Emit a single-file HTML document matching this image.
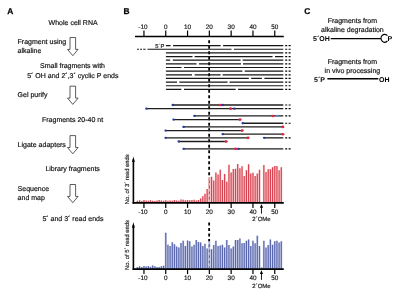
<!DOCTYPE html>
<html><head><meta charset="utf-8"><title>Figure</title>
<style>
html,body{margin:0;padding:0;background:#fff;}
body{width:400px;height:295px;overflow:hidden;}
svg{display:block;filter:blur(0.35px);font-family:"Liberation Sans",sans-serif;text-rendering:geometricPrecision;}
text{paint-order:stroke;stroke-linejoin:round;}
.t{font-size:7px;fill:#111;stroke:#111;stroke-width:0.18px;}
.b{font-weight:bold;font-size:7px;fill:#000;}
.h{font-weight:bold;font-size:8.4px;fill:#000;stroke:#000;stroke-width:0.25px;}
.s{font-size:6.4px;fill:#111;stroke:#111;stroke-width:0.15px;}
</style></head><body>
<svg width="400" height="295" viewBox="0 0 400 295">
<rect width="400" height="295" fill="#fff"/>

<g id="panelA">
<text class="h" x="7.2" y="14.1">A</text>
<text class="t" x="48.6" y="24.7" text-anchor="start">Whole cell RNA</text>
<text class="t" x="17.6" y="44.3" text-anchor="start">Fragment using</text>
<text class="t" x="17.6" y="53.2" text-anchor="start">alkaline</text>
<text class="t" x="40" y="68.3" text-anchor="start">Small fragments with</text>
<text class="t" x="27.2" y="77.5" text-anchor="start">5´ OH and 2´,3´ cyclic P ends</text>
<text class="t" x="17.6" y="97.1" text-anchor="start">Gel purify</text>
<text class="t" x="42.0" y="121.6" text-anchor="start">Fragments 20-40 nt</text>
<text class="t" x="17.6" y="146.7" text-anchor="start">Ligate adapters</text>
<text class="t" x="45.4" y="170.9" text-anchor="start">Library fragments</text>
<text class="t" x="17.6" y="191.0" text-anchor="start">Sequence</text>
<text class="t" x="17.6" y="200.3" text-anchor="start">and map</text>
<text class="t" x="42.4" y="220.5" text-anchor="start">5´ and 3´ read ends</text>
<polygon points="70.00,37.50 75.60,37.50 75.60,49.40 78.10,49.40 72.80,55.70 67.50,49.40 70.00,49.40" fill="#fff" stroke="#333" stroke-width="0.8" stroke-linejoin="miter"/>
<polygon points="70.00,86.20 75.60,86.20 75.60,98.10 78.10,98.10 72.80,104.40 67.50,98.10 70.00,98.10" fill="#fff" stroke="#333" stroke-width="0.8" stroke-linejoin="miter"/>
<polygon points="70.00,135.60 75.60,135.60 75.60,147.50 78.10,147.50 72.80,153.80 67.50,147.50 70.00,147.50" fill="#fff" stroke="#333" stroke-width="0.8" stroke-linejoin="miter"/>
<polygon points="70.00,184.50 75.60,184.50 75.60,196.40 78.10,196.40 72.80,202.70 67.50,196.40 70.00,196.40" fill="#fff" stroke="#333" stroke-width="0.8" stroke-linejoin="miter"/>
</g>
<g id="panelB">
<text class="h" x="123.6" y="14.1">B</text>
<line x1="135" y1="36.4" x2="283.8" y2="36.4" stroke="#000" stroke-width="1.5"/>
<line x1="143.95" y1="30.5" x2="143.95" y2="36.4" stroke="#000" stroke-width="1.2"/>
<text class="s" x="142.95" y="28.6" text-anchor="middle">-10</text>
<line x1="165.75" y1="30.5" x2="165.75" y2="36.4" stroke="#000" stroke-width="1.2"/>
<text class="s" x="165.75" y="28.6" text-anchor="middle">0</text>
<line x1="187.55" y1="30.5" x2="187.55" y2="36.4" stroke="#000" stroke-width="1.2"/>
<text class="s" x="187.55" y="28.6" text-anchor="middle">10</text>
<line x1="209.35" y1="30.5" x2="209.35" y2="36.4" stroke="#000" stroke-width="1.2"/>
<text class="s" x="209.35" y="28.6" text-anchor="middle">20</text>
<line x1="231.15" y1="30.5" x2="231.15" y2="36.4" stroke="#000" stroke-width="1.2"/>
<text class="s" x="231.15" y="28.6" text-anchor="middle">30</text>
<line x1="252.95" y1="30.5" x2="252.95" y2="36.4" stroke="#000" stroke-width="1.2"/>
<text class="s" x="252.95" y="28.6" text-anchor="middle">40</text>
<line x1="274.75" y1="30.5" x2="274.75" y2="36.4" stroke="#000" stroke-width="1.2"/>
<text class="s" x="274.75" y="28.6" text-anchor="middle">50</text>
<line x1="209.15" y1="40.2" x2="209.15" y2="203" stroke="#000" stroke-width="1.8" stroke-dasharray="3 2.5"/>
<line x1="209.15" y1="222.6" x2="209.15" y2="269" stroke="#000" stroke-width="1.8" stroke-dasharray="3 2.5"/>
<path d="M165.9 45.60H170.6 M173.1 45.60H220.6 M223.1 45.60H283.3" stroke="#161616" stroke-width="1.2" fill="none"/>
<path d="M285.2 45.60H287.2 M288.6 45.60H290.6" stroke="#000" stroke-width="1.2" fill="none"/>
<path d="M147.5 49.25H231.5 M234.0 49.25H283.3" stroke="#161616" stroke-width="1.2" fill="none"/>
<path d="M285.2 49.25H287.2 M288.6 49.25H290.6" stroke="#000" stroke-width="1.2" fill="none"/>
<path d="M165.9 52.90H283.3" stroke="#161616" stroke-width="1.2" fill="none"/>
<path d="M285.2 52.90H287.2 M288.6 52.90H290.6" stroke="#000" stroke-width="1.2" fill="none"/>
<path d="M165.9 56.55H192.5 M194.6 56.55H272.5 M275.0 56.55H283.3" stroke="#161616" stroke-width="1.2" fill="none"/>
<path d="M285.2 56.55H287.2 M288.6 56.55H290.6" stroke="#000" stroke-width="1.2" fill="none"/>
<path d="M165.9 60.20H170.2 M172.8 60.20H240.6 M242.6 60.20H283.3" stroke="#161616" stroke-width="1.2" fill="none"/>
<path d="M285.2 60.20H287.2 M288.6 60.20H290.6" stroke="#000" stroke-width="1.2" fill="none"/>
<path d="M165.9 63.85H196.5 M199.0 63.85H241.0 M243.0 63.85H283.3" stroke="#161616" stroke-width="1.2" fill="none"/>
<path d="M285.2 63.85H287.2 M288.6 63.85H290.6" stroke="#000" stroke-width="1.2" fill="none"/>
<path d="M165.9 67.50H181.6 M184.0 67.50H283.3" stroke="#161616" stroke-width="1.2" fill="none"/>
<path d="M285.2 67.50H287.2 M288.6 67.50H290.6" stroke="#000" stroke-width="1.2" fill="none"/>
<path d="M165.9 71.15H242.4 M244.7 71.15H283.3" stroke="#161616" stroke-width="1.2" fill="none"/>
<path d="M285.2 71.15H287.2 M288.6 71.15H290.6" stroke="#000" stroke-width="1.2" fill="none"/>
<path d="M165.9 74.80H192.0 M194.7 74.80H220.6 M222.6 74.80H283.3" stroke="#161616" stroke-width="1.2" fill="none"/>
<path d="M285.2 74.80H287.2 M288.6 74.80H290.6" stroke="#000" stroke-width="1.2" fill="none"/>
<path d="M165.9 78.45H248.8 M251.2 78.45H261.9 M264.4 78.45H283.3" stroke="#161616" stroke-width="1.2" fill="none"/>
<path d="M285.2 78.45H287.2 M288.6 78.45H290.6" stroke="#000" stroke-width="1.2" fill="none"/>
<path d="M165.9 82.10H177.0 M179.4 82.10H227.5 M229.5 82.10H283.3" stroke="#161616" stroke-width="1.2" fill="none"/>
<path d="M285.2 82.10H287.2 M288.6 82.10H290.6" stroke="#000" stroke-width="1.2" fill="none"/>
<path d="M165.9 85.75H283.3" stroke="#161616" stroke-width="1.2" fill="none"/>
<path d="M285.2 85.75H287.2 M288.6 85.75H290.6" stroke="#000" stroke-width="1.2" fill="none"/>
<path d="M165.9 89.40H181.3 M184.0 89.40H235.6 M238.1 89.40H283.3" stroke="#161616" stroke-width="1.2" fill="none"/>
<path d="M285.2 89.40H287.2 M288.6 89.40H290.6" stroke="#000" stroke-width="1.2" fill="none"/>
<path d="M137 49.25H138.9 M140.1 49.25H142 M143.2 49.25H145.6" stroke="#1a1a1a" stroke-width="1.15" fill="none"/>
<text class="s" style="font-size:5.8px" x="155.3" y="47.7">5´P</text>
<path d="M285.2 105.00H287.2 M288.6 105.00H290.6" stroke="#000" stroke-width="1.2" fill="none"/>
<path d="M172.8 105.00H283.3" stroke="#1e1e1e" stroke-width="1.3" fill="none"/>
<ellipse cx="172.80" cy="105.00" rx="1.35" ry="1.15" fill="#2a389c"/>
<ellipse cx="220.00" cy="105.00" rx="1.6" ry="1.3" fill="#dc2648"/>
<ellipse cx="222.60" cy="105.00" rx="1.35" ry="1.15" fill="#2a389c"/>
<path d="M285.2 108.65H287.2 M288.6 108.65H290.6" stroke="#000" stroke-width="1.2" fill="none"/>
<path d="M146.5 108.65H283.3" stroke="#1e1e1e" stroke-width="1.3" fill="none"/>
<ellipse cx="146.50" cy="108.65" rx="1.35" ry="1.15" fill="#2a389c"/>
<ellipse cx="230.50" cy="108.65" rx="1.6" ry="1.3" fill="#dc2648"/>
<ellipse cx="234.40" cy="108.65" rx="1.35" ry="1.15" fill="#2a389c"/>
<path d="M285.2 115.95H287.2 M288.6 115.95H290.6" stroke="#000" stroke-width="1.2" fill="none"/>
<path d="M194.5 115.95H283.3" stroke="#1e1e1e" stroke-width="1.3" fill="none"/>
<ellipse cx="194.50" cy="115.95" rx="1.35" ry="1.15" fill="#2a389c"/>
<ellipse cx="273.00" cy="115.95" rx="1.6" ry="1.3" fill="#dc2648"/>
<ellipse cx="277.50" cy="115.95" rx="1.35" ry="1.15" fill="#5a8fd0"/>
<path d="M173.6 119.60H240.0" stroke="#1e1e1e" stroke-width="1.3" fill="none"/>
<ellipse cx="173.60" cy="119.60" rx="1.35" ry="1.15" fill="#2a389c"/>
<ellipse cx="240.00" cy="119.60" rx="1.6" ry="1.3" fill="#dc2648"/>
<path d="M285.2 123.25H287.2 M288.6 123.25H290.6" stroke="#000" stroke-width="1.2" fill="none"/>
<path d="M242.8 123.25H283.3" stroke="#1e1e1e" stroke-width="1.3" fill="none"/>
<ellipse cx="242.80" cy="123.25" rx="1.35" ry="1.15" fill="#2a389c"/>
<path d="M183.6 126.90H282.8" stroke="#1e1e1e" stroke-width="1.3" fill="none"/>
<ellipse cx="183.60" cy="126.90" rx="1.35" ry="1.15" fill="#2a389c"/>
<ellipse cx="282.80" cy="126.90" rx="1.6" ry="1.3" fill="#dc2648"/>
<path d="M165.7 130.55H242.2" stroke="#1e1e1e" stroke-width="1.3" fill="none"/>
<ellipse cx="165.70" cy="130.55" rx="1.35" ry="1.15" fill="#2a389c"/>
<ellipse cx="242.20" cy="130.55" rx="1.6" ry="1.3" fill="#dc2648"/>
<path d="M222.8 134.20H282.8" stroke="#1e1e1e" stroke-width="1.3" fill="none"/>
<ellipse cx="222.80" cy="134.20" rx="1.35" ry="1.15" fill="#2a389c"/>
<ellipse cx="282.80" cy="134.20" rx="1.6" ry="1.3" fill="#dc2648"/>
<path d="M165.7 137.85H248.0" stroke="#1e1e1e" stroke-width="1.3" fill="none"/>
<ellipse cx="165.70" cy="137.85" rx="1.35" ry="1.15" fill="#2a389c"/>
<ellipse cx="248.00" cy="137.85" rx="1.6" ry="1.3" fill="#dc2648"/>
<path d="M285.2 137.85H287.2 M288.6 137.85H290.6" stroke="#000" stroke-width="1.2" fill="none"/>
<path d="M264.2 137.85H283.3" stroke="#1e1e1e" stroke-width="1.3" fill="none"/>
<ellipse cx="264.20" cy="137.85" rx="1.35" ry="1.15" fill="#2a389c"/>
<path d="M178.8 141.50H226.2" stroke="#1e1e1e" stroke-width="1.3" fill="none"/>
<ellipse cx="178.80" cy="141.50" rx="1.35" ry="1.15" fill="#2a389c"/>
<ellipse cx="226.20" cy="141.50" rx="1.6" ry="1.3" fill="#dc2648"/>
<path d="M285.2 148.80H287.2 M288.6 148.80H290.6" stroke="#000" stroke-width="1.2" fill="none"/>
<path d="M183.7 148.80H283.3" stroke="#1e1e1e" stroke-width="1.3" fill="none"/>
<ellipse cx="183.70" cy="148.80" rx="1.35" ry="1.15" fill="#2a389c"/>
<ellipse cx="235.60" cy="148.80" rx="1.6" ry="1.3" fill="#dc2648"/>
<ellipse cx="238.60" cy="148.80" rx="1.35" ry="1.15" fill="#2a389c"/>
<path d="M136.32 202.9v-2.20h2.18v2.20z M138.50 202.9v-2.60h2.18v2.60z M140.68 202.9v-2.00h2.18v2.00z M142.86 202.9v-2.80h2.18v2.80z M145.04 202.9v-2.30h2.18v2.30z M147.22 202.9v-2.10h2.18v2.10z M149.40 202.9v-2.70h2.18v2.70z M151.58 202.9v-2.20h2.18v2.20z M153.76 202.9v-2.00h2.18v2.00z M155.94 202.9v-2.50h2.18v2.50z M158.12 202.9v-2.90h2.18v2.90z M160.30 202.9v-2.40h2.18v2.40z M162.48 202.9v-2.10h2.18v2.10z M164.66 202.9v-2.60h2.18v2.60z M166.84 202.9v-2.20h2.18v2.20z M169.02 202.9v-2.50h2.18v2.50z M171.20 202.9v-2.10h2.18v2.10z M173.38 202.9v-2.80h2.18v2.80z M175.56 202.9v-2.30h2.18v2.30z M177.74 202.9v-2.20h2.18v2.20z M179.92 202.9v-3.40h2.18v3.40z M182.10 202.9v-3.10h2.18v3.10z M184.28 202.9v-2.70h2.18v2.70z M186.46 202.9v-2.90h2.18v2.90z M188.64 202.9v-2.60h2.18v2.60z M190.82 202.9v-3.00h2.18v3.00z M193.00 202.9v-3.20h2.18v3.20z M195.18 202.9v-2.50h2.18v2.50z M197.36 202.9v-2.90h2.18v2.90z M199.54 202.9v-4.50h2.18v4.50z M201.72 202.9v-6.60h2.18v6.60z M203.90 202.9v-9.10h2.18v9.10z M206.08 202.9v-13.80h2.18v13.80z M208.26 202.9v-25.40h2.18v25.40z M210.44 202.9v-26.20h2.18v26.20z M212.62 202.9v-22.40h2.18v22.40z M214.80 202.9v-30.51h2.18v30.51z M216.98 202.9v-28.47h2.18v28.47z M219.16 202.9v-33.05h2.18v33.05z M221.34 202.9v-22.88h2.18v22.88z M223.52 202.9v-28.81h2.18v28.81z M225.70 202.9v-21.19h2.18v21.19z M227.88 202.9v-38.14h2.18v38.14z M230.06 202.9v-30.51h2.18v30.51z M232.24 202.9v-33.90h2.18v33.90z M234.42 202.9v-34.24h2.18v34.24z M236.60 202.9v-38.98h2.18v38.98z M238.78 202.9v-34.75h2.18v34.75z M240.96 202.9v-36.61h2.18v36.61z M243.14 202.9v-26.78h2.18v26.78z M245.32 202.9v-32.71h2.18v32.71z M247.50 202.9v-38.64h2.18v38.64z M249.68 202.9v-29.32h2.18v29.32z M251.86 202.9v-30.17h2.18v30.17z M254.04 202.9v-26.78h2.18v26.78z M256.22 202.9v-29.32h2.18v29.32z M258.40 202.9v-33.22h2.18v33.22z M262.76 202.9v-37.80h2.18v37.80z M264.94 202.9v-31.02h2.18v31.02z M267.12 202.9v-33.56h2.18v33.56z M269.30 202.9v-33.56h2.18v33.56z M271.48 202.9v-35.59h2.18v35.59z M273.66 202.9v-36.95h2.18v36.95z M275.84 202.9v-36.95h2.18v36.95z M278.02 202.9v-32.71h2.18v32.71z M280.20 202.9v-35.59h2.18v35.59z" fill="#fbd0d2"/>
<path d="M136.81 202.9v-2.20h1.2v2.20z M138.99 202.9v-2.60h1.2v2.60z M141.17 202.9v-2.00h1.2v2.00z M143.35 202.9v-2.80h1.2v2.80z M145.53 202.9v-2.30h1.2v2.30z M147.71 202.9v-2.10h1.2v2.10z M149.89 202.9v-2.70h1.2v2.70z M152.07 202.9v-2.20h1.2v2.20z M154.25 202.9v-2.00h1.2v2.00z M156.43 202.9v-2.50h1.2v2.50z M158.61 202.9v-2.90h1.2v2.90z M160.79 202.9v-2.40h1.2v2.40z M162.97 202.9v-2.10h1.2v2.10z M165.15 202.9v-2.60h1.2v2.60z M167.33 202.9v-2.20h1.2v2.20z M169.51 202.9v-2.50h1.2v2.50z M171.69 202.9v-2.10h1.2v2.10z M173.87 202.9v-2.80h1.2v2.80z M176.05 202.9v-2.30h1.2v2.30z M178.23 202.9v-2.20h1.2v2.20z M180.41 202.9v-3.40h1.2v3.40z M182.59 202.9v-3.10h1.2v3.10z M184.77 202.9v-2.70h1.2v2.70z M186.95 202.9v-2.90h1.2v2.90z M189.13 202.9v-2.60h1.2v2.60z M191.31 202.9v-3.00h1.2v3.00z M193.49 202.9v-3.20h1.2v3.20z M195.67 202.9v-2.50h1.2v2.50z M197.85 202.9v-2.90h1.2v2.90z M200.03 202.9v-4.50h1.2v4.50z M202.21 202.9v-6.60h1.2v6.60z M204.39 202.9v-9.10h1.2v9.10z M206.57 202.9v-13.80h1.2v13.80z M208.75 202.9v-25.40h1.2v25.40z M210.93 202.9v-26.20h1.2v26.20z M213.11 202.9v-22.40h1.2v22.40z M215.29 202.9v-30.51h1.2v30.51z M217.47 202.9v-28.47h1.2v28.47z M219.65 202.9v-33.05h1.2v33.05z M221.83 202.9v-22.88h1.2v22.88z M224.01 202.9v-28.81h1.2v28.81z M226.19 202.9v-21.19h1.2v21.19z M228.37 202.9v-38.14h1.2v38.14z M230.55 202.9v-30.51h1.2v30.51z M232.73 202.9v-33.90h1.2v33.90z M234.91 202.9v-34.24h1.2v34.24z M237.09 202.9v-38.98h1.2v38.98z M239.27 202.9v-34.75h1.2v34.75z M241.45 202.9v-36.61h1.2v36.61z M243.63 202.9v-26.78h1.2v26.78z M245.81 202.9v-32.71h1.2v32.71z M247.99 202.9v-38.64h1.2v38.64z M250.17 202.9v-29.32h1.2v29.32z M252.35 202.9v-30.17h1.2v30.17z M254.53 202.9v-26.78h1.2v26.78z M256.71 202.9v-29.32h1.2v29.32z M258.89 202.9v-33.22h1.2v33.22z M263.25 202.9v-37.80h1.2v37.80z M265.43 202.9v-31.02h1.2v31.02z M267.61 202.9v-33.56h1.2v33.56z M269.79 202.9v-33.56h1.2v33.56z M271.97 202.9v-35.59h1.2v35.59z M274.15 202.9v-36.95h1.2v36.95z M276.33 202.9v-36.95h1.2v36.95z M278.51 202.9v-32.71h1.2v32.71z M280.69 202.9v-35.59h1.2v35.59z" fill="#d64452"/>
<line x1="209.15" y1="177.50" x2="209.15" y2="202.9" stroke="#fff" stroke-opacity="0.75" stroke-width="1" stroke-dasharray="3 2.5"/>
<line x1="133.4" y1="203.70000000000002" x2="133.4" y2="159.4" stroke="#000" stroke-width="1.6"/>
<polygon points="133.4,156.4 132.05,162.0 134.75,162.0" fill="#000"/>
<line x1="132.6" y1="202.9" x2="283.8" y2="202.9" stroke="#000" stroke-width="1.6"/>
<line x1="143.95" y1="202.9" x2="143.95" y2="207.9" stroke="#000" stroke-width="1.2"/>
<text class="s" x="142.95" y="213.8" text-anchor="middle">-10</text>
<line x1="165.75" y1="202.9" x2="165.75" y2="207.9" stroke="#000" stroke-width="1.2"/>
<text class="s" x="165.75" y="213.8" text-anchor="middle">0</text>
<line x1="187.55" y1="202.9" x2="187.55" y2="207.9" stroke="#000" stroke-width="1.2"/>
<text class="s" x="187.55" y="213.8" text-anchor="middle">10</text>
<line x1="209.35" y1="202.9" x2="209.35" y2="207.9" stroke="#000" stroke-width="1.2"/>
<text class="s" x="209.35" y="213.8" text-anchor="middle">20</text>
<line x1="231.15" y1="202.9" x2="231.15" y2="207.9" stroke="#000" stroke-width="1.2"/>
<text class="s" x="231.15" y="213.8" text-anchor="middle">30</text>
<line x1="252.95" y1="202.9" x2="252.95" y2="207.9" stroke="#000" stroke-width="1.2"/>
<text class="s" x="252.95" y="213.8" text-anchor="middle">40</text>
<line x1="274.75" y1="202.9" x2="274.75" y2="207.9" stroke="#000" stroke-width="1.2"/>
<text class="s" x="274.75" y="213.8" text-anchor="middle">50</text>
<line x1="261.47" y1="213.70000000000002" x2="261.47" y2="205.9" stroke="#000" stroke-width="0.9"/>
<polygon points="261.47,204.1 259.87,207.70000000000002 263.07,207.70000000000002" fill="#000"/>
<text class="s" style="font-size:6px" x="261.47" y="221.4" text-anchor="middle">2´OMe</text>
<text class="s" style="font-size:5.85px" transform="translate(129 179.3) rotate(-90)" text-anchor="middle">No. of 3´ read ends</text>
<path d="M136.32 269.1v-2.20h2.18v2.20z M138.50 269.1v-2.80h2.18v2.80z M140.68 269.1v-2.00h2.18v2.00z M142.86 269.1v-3.20h2.18v3.20z M145.04 269.1v-2.60h2.18v2.60z M147.22 269.1v-3.00h2.18v3.00z M149.40 269.1v-2.40h2.18v2.40z M151.58 269.1v-3.60h2.18v3.60z M153.76 269.1v-2.80h2.18v2.80z M155.94 269.1v-2.20h2.18v2.20z M158.12 269.1v-2.00h2.18v2.00z M160.30 269.1v-2.90h2.18v2.90z M162.48 269.1v-3.30h2.18v3.30z M164.66 269.1v-36.27h2.18v36.27z M166.84 269.1v-24.41h2.18v24.41z M169.02 269.1v-23.22h2.18v23.22z M171.20 269.1v-26.95h2.18v26.95z M173.38 269.1v-24.92h2.18v24.92z M175.56 269.1v-22.71h2.18v22.71z M177.74 269.1v-21.53h2.18v21.53z M179.92 269.1v-26.10h2.18v26.10z M182.10 269.1v-28.31h2.18v28.31z M184.28 269.1v-23.22h2.18v23.22z M186.46 269.1v-28.64h2.18v28.64z M188.64 269.1v-27.80h2.18v27.80z M190.82 269.1v-22.71h2.18v22.71z M193.00 269.1v-24.41h2.18v24.41z M195.18 269.1v-29.15h2.18v29.15z M197.36 269.1v-27.12h2.18v27.12z M199.54 269.1v-26.61h2.18v26.61z M201.72 269.1v-23.22h2.18v23.22z M203.90 269.1v-25.42h2.18v25.42z M206.08 269.1v-20.68h2.18v20.68z M208.26 269.1v-27.80h2.18v27.80z M210.44 269.1v-19.83h2.18v19.83z M212.62 269.1v-24.07h2.18v24.07z M214.80 269.1v-28.31h2.18v28.31z M216.98 269.1v-23.22h2.18v23.22z M219.16 269.1v-23.56h2.18v23.56z M221.34 269.1v-24.41h2.18v24.41z M223.52 269.1v-21.53h2.18v21.53z M225.70 269.1v-29.15h2.18v29.15z M227.88 269.1v-24.07h2.18v24.07z M230.06 269.1v-20.68h2.18v20.68z M232.24 269.1v-22.71h2.18v22.71z M234.42 269.1v-29.15h2.18v29.15z M236.60 269.1v-29.15h2.18v29.15z M238.78 269.1v-30.51h2.18v30.51z M240.96 269.1v-25.76h2.18v25.76z M243.14 269.1v-26.10h2.18v26.10z M245.32 269.1v-28.31h2.18v28.31z M247.50 269.1v-29.49h2.18v29.49z M249.68 269.1v-23.22h2.18v23.22z M251.86 269.1v-28.31h2.18v28.31z M254.04 269.1v-25.76h2.18v25.76z M256.22 269.1v-33.39h2.18v33.39z M258.40 269.1v-23.22h2.18v23.22z M260.58 269.1v-1.69h2.18v1.69z M262.76 269.1v-28.31h2.18v28.31z M264.94 269.1v-21.53h2.18v21.53z M267.12 269.1v-24.07h2.18v24.07z M269.30 269.1v-29.49h2.18v29.49z M271.48 269.1v-24.41h2.18v24.41z M273.66 269.1v-27.80h2.18v27.80z M275.84 269.1v-28.31h2.18v28.31z M278.02 269.1v-26.61h2.18v26.61z M280.20 269.1v-27.80h2.18v27.80z" fill="#ced4ec"/>
<path d="M136.81 269.1v-2.20h1.2v2.20z M138.99 269.1v-2.80h1.2v2.80z M141.17 269.1v-2.00h1.2v2.00z M143.35 269.1v-3.20h1.2v3.20z M145.53 269.1v-2.60h1.2v2.60z M147.71 269.1v-3.00h1.2v3.00z M149.89 269.1v-2.40h1.2v2.40z M152.07 269.1v-3.60h1.2v3.60z M154.25 269.1v-2.80h1.2v2.80z M156.43 269.1v-2.20h1.2v2.20z M158.61 269.1v-2.00h1.2v2.00z M160.79 269.1v-2.90h1.2v2.90z M162.97 269.1v-3.30h1.2v3.30z M165.15 269.1v-36.27h1.2v36.27z M167.33 269.1v-24.41h1.2v24.41z M169.51 269.1v-23.22h1.2v23.22z M171.69 269.1v-26.95h1.2v26.95z M173.87 269.1v-24.92h1.2v24.92z M176.05 269.1v-22.71h1.2v22.71z M178.23 269.1v-21.53h1.2v21.53z M180.41 269.1v-26.10h1.2v26.10z M182.59 269.1v-28.31h1.2v28.31z M184.77 269.1v-23.22h1.2v23.22z M186.95 269.1v-28.64h1.2v28.64z M189.13 269.1v-27.80h1.2v27.80z M191.31 269.1v-22.71h1.2v22.71z M193.49 269.1v-24.41h1.2v24.41z M195.67 269.1v-29.15h1.2v29.15z M197.85 269.1v-27.12h1.2v27.12z M200.03 269.1v-26.61h1.2v26.61z M202.21 269.1v-23.22h1.2v23.22z M204.39 269.1v-25.42h1.2v25.42z M206.57 269.1v-20.68h1.2v20.68z M208.75 269.1v-27.80h1.2v27.80z M210.93 269.1v-19.83h1.2v19.83z M213.11 269.1v-24.07h1.2v24.07z M215.29 269.1v-28.31h1.2v28.31z M217.47 269.1v-23.22h1.2v23.22z M219.65 269.1v-23.56h1.2v23.56z M221.83 269.1v-24.41h1.2v24.41z M224.01 269.1v-21.53h1.2v21.53z M226.19 269.1v-29.15h1.2v29.15z M228.37 269.1v-24.07h1.2v24.07z M230.55 269.1v-20.68h1.2v20.68z M232.73 269.1v-22.71h1.2v22.71z M234.91 269.1v-29.15h1.2v29.15z M237.09 269.1v-29.15h1.2v29.15z M239.27 269.1v-30.51h1.2v30.51z M241.45 269.1v-25.76h1.2v25.76z M243.63 269.1v-26.10h1.2v26.10z M245.81 269.1v-28.31h1.2v28.31z M247.99 269.1v-29.49h1.2v29.49z M250.17 269.1v-23.22h1.2v23.22z M252.35 269.1v-28.31h1.2v28.31z M254.53 269.1v-25.76h1.2v25.76z M256.71 269.1v-33.39h1.2v33.39z M258.89 269.1v-23.22h1.2v23.22z M261.07 269.1v-1.69h1.2v1.69z M263.25 269.1v-28.31h1.2v28.31z M265.43 269.1v-21.53h1.2v21.53z M267.61 269.1v-24.07h1.2v24.07z M269.79 269.1v-29.49h1.2v29.49z M271.97 269.1v-24.41h1.2v24.41z M274.15 269.1v-27.80h1.2v27.80z M276.33 269.1v-28.31h1.2v28.31z M278.51 269.1v-26.61h1.2v26.61z M280.69 269.1v-27.80h1.2v27.80z" fill="#5a67ad"/>
<line x1="209.15" y1="241.30" x2="209.15" y2="269.1" stroke="#fff" stroke-opacity="0.75" stroke-width="1" stroke-dasharray="3 2.5"/>
<line x1="133.4" y1="269.90000000000003" x2="133.4" y2="225.1" stroke="#000" stroke-width="1.6"/>
<polygon points="133.4,222.1 132.05,227.7 134.75,227.7" fill="#000"/>
<line x1="132.6" y1="269.1" x2="283.8" y2="269.1" stroke="#000" stroke-width="1.6"/>
<line x1="143.95" y1="269.1" x2="143.95" y2="274.1" stroke="#000" stroke-width="1.2"/>
<text class="s" x="142.95" y="280" text-anchor="middle">-10</text>
<line x1="165.75" y1="269.1" x2="165.75" y2="274.1" stroke="#000" stroke-width="1.2"/>
<text class="s" x="165.75" y="280" text-anchor="middle">0</text>
<line x1="187.55" y1="269.1" x2="187.55" y2="274.1" stroke="#000" stroke-width="1.2"/>
<text class="s" x="187.55" y="280" text-anchor="middle">10</text>
<line x1="209.35" y1="269.1" x2="209.35" y2="274.1" stroke="#000" stroke-width="1.2"/>
<text class="s" x="209.35" y="280" text-anchor="middle">20</text>
<line x1="231.15" y1="269.1" x2="231.15" y2="274.1" stroke="#000" stroke-width="1.2"/>
<text class="s" x="231.15" y="280" text-anchor="middle">30</text>
<line x1="252.95" y1="269.1" x2="252.95" y2="274.1" stroke="#000" stroke-width="1.2"/>
<text class="s" x="252.95" y="280" text-anchor="middle">40</text>
<line x1="274.75" y1="269.1" x2="274.75" y2="274.1" stroke="#000" stroke-width="1.2"/>
<text class="s" x="274.75" y="280" text-anchor="middle">50</text>
<line x1="261.47" y1="279.90000000000003" x2="261.47" y2="272.1" stroke="#000" stroke-width="0.9"/>
<polygon points="261.47,270.3 259.87,273.90000000000003 263.07,273.90000000000003" fill="#000"/>
<text class="s" style="font-size:6px" x="261.47" y="287.6" text-anchor="middle">2´OMe</text>
<text class="s" style="font-size:5.85px" transform="translate(129 245.0) rotate(-90)" text-anchor="middle">No. of 5´ read ends</text>
</g>
<g id="panelC">
<text class="h" x="304.2" y="14.1">C</text>
<text class="t" x="352.4" y="22.7" text-anchor="middle">Fragments from</text>
<text class="t" x="352.4" y="31.7" text-anchor="middle">alkaline degradation</text>
<text class="b" x="313" y="41.3" text-anchor="start">5´OH</text>
<line x1="330.7" y1="38.6" x2="381.2" y2="38.6" stroke="#000" stroke-width="1.4"/>
<path d="M387.4 35.7A3.6 4 0 1 0 387.4 40.9" fill="none" stroke="#000" stroke-width="1.2"/>
<text class="b" x="387.6" y="41.3" text-anchor="start">P</text>
<text class="t" x="352.4" y="64.3" text-anchor="middle">Fragments from</text>
<text class="t" x="352.4" y="73.0" text-anchor="middle">in vivo processing</text>
<text class="b" x="314" y="81.5" text-anchor="start">5´P</text>
<line x1="327.4" y1="78.8" x2="378.3" y2="78.8" stroke="#000" stroke-width="1.4"/>
<text class="b" x="379" y="81.5" text-anchor="start">OH</text>
</g>
</svg></body></html>
